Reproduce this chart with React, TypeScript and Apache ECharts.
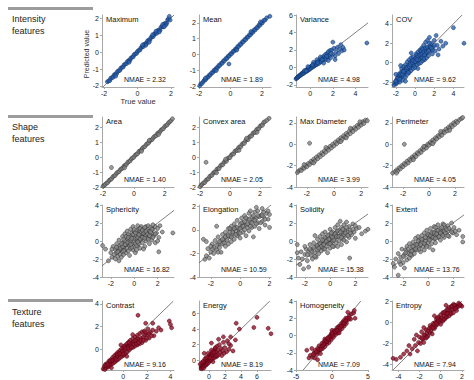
import React, { useEffect, useRef } from "react";
import * as echarts from "echarts";

const plotTitles = [
  "Maximum", "Mean", "Variance", "COV",
  "Area", "Convex area", "Max Diameter", "Perimeter",
  "Sphericity", "Elongation", "Solidity", "Extent",
  "Contrast", "Energy", "Homogeneity", "Entropy",
];
const nmaeLabels = [
  "2.32", "1.89", "4.98", "9.62",
  "1.40", "2.05", "3.99", "4.05",
  "16.82", "10.59", "15.38", "13.76",
  "9.16", "8.19", "7.09", "7.94",
];
const xRanges = [
  [-2.12, 2.18], [-2.0, 2.57], [-1.25, 5.1], [-2.4, 5.1],
  [-2.06, 2.6], [-2.07, 2.73], [-2.8, 2.5], [-2.85, 2.7],
  [-2.75, 3.4], [-2.8, 2.1], [-2.7, 3.0], [-2.9, 2.9],
  [-1.8, 4.3], [-1.25, 7.75], [-5, 5], [-4.6, 2.2],
];
const yRanges = [
  [-2.06, 2.18], [-2.06, 2.5], [-2.23, 6.0], [-2.5, 4.9],
  [-2.0, 2.67], [-2.0, 2.67], [-4, 2.55], [-4, 2.55],
  [-4, 4], [-4, 2.1], [-4, 4], [-4, 4],
  [-1.8, 4.25], [-1.25, 7.6], [-4, 4], [-4.5, 2.0],
];
const xTickValues = [
  [-2, 0, 2], [-2, 0, 2], [0, 2, 4], [-2, 0, 2, 4],
  [-2, 0, 2], [-2, 0, 2], [-2, 0, 2], [-2, 0, 2],
  [-2, 0, 2], [-2, 0, 2], [-2, 0, 2], [-2, 0, 2],
  [0, 2, 4], [0, 2, 4, 6], [-5, 0, 5], [-4, -2, 0, 2],
];
const yTickValues = [
  [-2, -1, 0, 1, 2], [-2, -1, 0, 1, 2], [-2, 0, 2, 4, 6], [-2, 0, 2, 4],
  [-2, -1, 0, 1, 2], [-2, -1, 0, 1, 2], [-4, -2, 0, 2], [-4, -2, 0, 2],
  [-4, -2, 0, 2, 4], [-4, -2, 0, 2], [-4, -2, 0, 2, 4], [-4, -2, 0, 2, 4],
  [0, 2, 4], [0, 2, 4, 6], [-4, -2, 0, 2, 4], [-4, -2, 0, 2],
];
const sectionNames = [["Intensity", "features"], ["Shape", "features"], ["Texture", "features"]];

const maximumPoints = [[-1.8,-1.75],[-1.72,-1.7],[-1.65,-1.68],[-1.6,-1.55],[-1.52,-1.5],[-1.45,-1.48],[-1.4,-1.35],[-1.33,-1.3],[-1.25,-1.28],[-1.2,-1.15],[-1.12,-1.1],[-1.05,-1.08],[-1.0,-0.95],[-0.92,-0.9],[-0.85,-0.88],[-0.8,-0.75],[-0.72,-0.7],[-0.65,-0.68],[-0.6,-0.55],[-0.52,-0.5],[-0.45,-0.48],[-0.4,-0.36],[-0.32,-0.3],[-0.25,-0.28],[-0.2,-0.15],[-0.12,-0.1],[-0.05,-0.08],[0.0,0.04],[0.08,0.1],[0.15,0.12],[0.2,0.25],[0.28,0.3],[0.35,0.32],[0.4,0.45],[0.48,0.5],[0.55,0.52],[0.6,0.66],[0.68,0.7],[0.75,0.72],[0.8,0.86],[0.88,0.9],[0.95,0.92],[1.0,1.06],[1.08,1.1],[1.15,1.1],[1.2,1.26],[1.28,1.3],[1.35,1.28],[1.4,1.46],[1.48,1.5],[1.55,1.48],[1.6,1.66],[1.68,1.7],[1.75,1.7],[1.8,1.9],[1.85,1.95],[1.9,2.1],[1.7,1.6],[1.5,1.62],[1.3,1.18],[0.9,1.02],[0.5,0.4],[0.3,0.42],[-0.5,-0.6],[-1.3,-1.42],[1.95,1.88],[1.6,1.5],[1.1,1.22],[0.7,0.58]];
const meanPoints = [[-1.95,-1.98],[-1.88,-1.85],[-1.8,-1.83],[-1.72,-1.7],[-1.65,-1.62],[-1.58,-1.6],[-1.5,-1.46],[-1.42,-1.44],[-1.35,-1.3],[-1.28,-1.3],[-1.2,-1.16],[-1.12,-1.14],[-1.05,-1.0],[-0.98,-1.0],[-0.9,-0.86],[-0.82,-0.84],[-0.75,-0.7],[-0.68,-0.7],[-0.6,-0.56],[-0.52,-0.55],[-0.45,-0.4],[-0.38,-0.4],[-0.3,-0.26],[-0.22,-0.25],[-0.15,-0.1],[-0.08,-0.1],[0.0,0.04],[0.07,0.04],[0.15,0.19],[0.22,0.2],[0.3,0.34],[0.37,0.34],[0.45,0.5],[0.52,0.5],[0.6,0.65],[0.67,0.64],[0.75,0.8],[0.82,0.8],[0.9,0.95],[0.97,0.94],[1.05,1.1],[1.12,1.1],[1.2,1.25],[1.27,1.24],[1.35,1.4],[1.42,1.4],[1.5,1.56],[1.57,1.55],[1.65,1.7],[1.72,1.7],[1.8,1.86],[1.87,1.85],[1.95,2.0],[2.02,2.0],[2.1,2.15],[2.2,2.18],[2.3,2.32],[2.5,2.42],[-0.1,-0.6],[1.3,1.45],[0.4,0.28],[-0.9,-1.02],[1.9,2.06],[-1.6,-1.5]];
const variancePoints = [[-1.25,-1.3],[-1.2,-1.22],[-1.15,-1.18],[-1.1,-1.12],[-1.05,-1.05],[-1.0,-1.02],[-0.95,-0.92],[-0.9,-0.95],[-0.85,-0.82],[-0.8,-0.85],[-0.75,-0.7],[-0.7,-0.75],[-0.65,-0.6],[-0.6,-0.68],[-0.55,-0.5],[-0.5,-0.58],[-0.45,-0.4],[-0.4,-0.5],[-0.35,-0.3],[-0.3,-0.42],[-0.25,-0.2],[-0.2,-0.35],[-0.15,-0.1],[-0.1,-0.25],[-0.05,0.0],[0.0,-0.15],[0.05,0.1],[0.1,-0.05],[0.15,0.2],[0.2,0.05],[0.25,0.3],[0.3,0.1],[0.35,0.4],[0.4,0.2],[0.45,0.5],[0.5,0.3],[0.55,0.6],[0.6,0.35],[0.7,0.7],[0.75,0.45],[0.8,0.85],[0.9,0.6],[0.95,1.0],[1.0,0.7],[1.1,1.15],[1.15,0.85],[1.2,1.3],[1.3,1.0],[1.35,1.5],[1.4,0.9],[1.5,1.6],[1.55,1.2],[1.6,1.8],[1.7,1.3],[1.75,1.95],[1.8,1.1],[1.9,2.0],[2.0,1.5],[2.1,2.2],[2.2,1.3],[2.3,1.8],[2.4,2.3],[2.5,1.6],[2.6,2.1],[2.8,1.9],[2.9,2.3],[3.0,2.0],[2.0,2.9],[2.7,2.6],[1.2,0.5],[2.2,0.9],[0.3,0.6],[-0.5,-0.35],[0.9,1.2],[5.0,2.8],[1.6,0.8],[0.6,0.9],[-0.2,0.1],[0.65,0.55],[1.05,0.9],[1.45,1.3],[1.85,1.6],[0.2,0.3],[-0.35,-0.4]];
const covPoints = [[-2.2,-2.3],[-2.1,-2.0],[-2.0,-2.2],[-1.9,-1.7],[-1.9,-2.1],[-1.8,-1.5],[-1.8,-1.9],[-1.7,-1.2],[-1.7,-1.8],[-1.6,-1.4],[-1.6,-2.0],[-1.5,-1.0],[-1.5,-1.6],[-1.4,-0.6],[-1.4,-1.3],[-1.3,-1.8],[-1.3,-0.9],[-1.2,-1.4],[-1.2,-0.4],[-1.1,-1.1],[-1.1,-0.7],[-1.0,-1.5],[-1.0,-0.2],[-0.9,-0.9],[-0.9,-0.5],[-0.8,-1.2],[-0.8,0.1],[-0.7,-0.7],[-0.7,-0.3],[-0.6,-1.0],[-0.6,0.3],[-0.5,-0.5],[-0.5,0.0],[-0.4,-0.8],[-0.4,0.5],[-0.3,-0.2],[-0.3,0.2],[-0.2,-0.6],[-0.2,0.6],[-0.1,0.0],[-0.1,-0.3],[0.0,0.4],[0.0,-0.5],[0.1,0.9],[0.1,0.1],[0.2,-0.2],[0.2,0.5],[0.3,1.1],[0.3,0.2],[0.4,-0.1],[0.4,0.7],[0.5,1.3],[0.5,0.4],[0.6,0.0],[0.6,0.9],[0.7,1.5],[0.7,0.5],[0.8,0.2],[0.8,1.1],[0.9,1.8],[0.9,0.7],[1.0,0.3],[1.0,1.3],[1.1,2.1],[1.1,0.9],[1.2,0.5],[1.2,1.5],[1.3,2.3],[1.3,1.0],[1.4,0.7],[1.5,1.7],[1.6,1.2],[1.7,2.0],[1.8,0.9],[1.9,1.6],[2.0,2.3],[2.1,1.2],[2.3,1.8],[2.5,1.4],[2.7,2.2],[2.9,1.7],[3.2,2.0],[2.4,0.8],[-1.0,-1.9],[-2.0,-1.2],[-1.5,-0.3],[0.3,-0.6],[4.0,3.6],[5.1,2.0],[1.5,2.6],[-0.4,1.0],[2.2,2.8],[-1.8,-1.6],[-1.5,-1.2],[-1.3,-1.2],[-1.1,-0.9],[-0.9,-0.7],[-0.8,-0.5],[-0.6,-0.4],[-0.5,-0.2],[-0.3,0.0],[-0.2,0.2],[0.0,0.1],[0.1,0.5],[0.2,0.8],[0.3,0.6],[0.5,0.8],[0.6,1.2],[0.7,0.9],[0.8,1.4],[0.9,1.1],[1.0,0.8],[1.1,1.5],[1.2,1.1],[1.3,1.6],[1.4,1.2],[1.5,2.0],[1.6,1.6],[1.8,1.3],[-1.2,-0.9],[-0.7,-1.0],[0.4,0.3],[1.7,1.5],[2.0,1.8],[-2.0,-1.9],[-1.6,-1.7],[0.2,0.3],[0.9,0.4]];
const areaPoints = [[-2.0,-1.95],[-1.92,-1.9],[-1.85,-1.82],[-1.76,-1.74],[-1.68,-1.7],[-1.6,-1.56],[-1.52,-1.5],[-1.44,-1.46],[-1.36,-1.32],[-1.28,-1.26],[-1.2,-1.22],[-1.12,-1.08],[-1.04,-1.02],[-0.96,-0.98],[-0.88,-0.84],[-0.8,-0.78],[-0.72,-0.74],[-0.64,-0.6],[-0.56,-0.54],[-0.48,-0.5],[-0.4,-0.36],[-0.32,-0.3],[-0.24,-0.26],[-0.16,-0.12],[-0.08,-0.06],[0.0,-0.02],[0.08,0.12],[0.16,0.18],[0.24,0.22],[0.32,0.36],[0.4,0.42],[0.48,0.46],[0.56,0.6],[0.64,0.66],[0.72,0.7],[0.8,0.84],[0.88,0.9],[0.96,0.94],[1.04,1.08],[1.12,1.14],[1.2,1.18],[1.28,1.32],[1.36,1.38],[1.44,1.42],[1.52,1.56],[1.6,1.62],[1.68,1.66],[1.76,1.8],[1.84,1.86],[1.92,1.9],[2.0,2.04],[2.08,2.1],[2.16,2.14],[2.24,2.28],[2.32,2.34],[2.4,2.42],[2.5,2.55],[-1.45,-0.7],[0.5,0.38],[1.0,1.12],[1.6,1.5],[-0.6,-0.72]];
const convexAreaPoints = [[-2.0,-1.98],[-1.92,-1.86],[-1.84,-1.8],[-1.76,-1.72],[-1.68,-1.7],[-1.6,-1.55],[-1.52,-1.48],[-1.44,-1.46],[-1.36,-1.3],[-1.28,-1.24],[-1.2,-1.22],[-1.12,-1.06],[-1.04,-1.0],[-0.96,-0.99],[-0.88,-0.82],[-0.8,-0.76],[-0.72,-0.76],[-0.64,-0.58],[-0.56,-0.52],[-0.48,-0.52],[-0.4,-0.34],[-0.32,-0.28],[-0.24,-0.28],[-0.16,-0.1],[-0.08,-0.04],[0.0,-0.04],[0.08,0.14],[0.16,0.2],[0.24,0.2],[0.32,0.38],[0.4,0.44],[0.48,0.44],[0.56,0.62],[0.64,0.68],[0.72,0.68],[0.8,0.86],[0.88,0.92],[0.96,0.92],[1.04,1.1],[1.12,1.16],[1.2,1.16],[1.28,1.34],[1.36,1.4],[1.44,1.4],[1.52,1.58],[1.6,1.64],[1.68,1.64],[1.76,1.82],[1.84,1.88],[1.92,1.88],[2.0,2.06],[2.08,2.12],[2.16,2.12],[2.24,2.3],[2.32,2.36],[2.45,2.45],[2.6,2.58],[-1.6,-0.35],[0.6,0.45],[1.1,1.25],[-0.9,-1.05],[1.8,1.65],[-0.3,-0.15]];
const maxDiameterPoints = [[-2.95,-2.5],[-2.7,-2.65],[-2.6,-2.5],[-2.5,-2.4],[-2.4,-2.45],[-2.3,-2.2],[-2.2,-2.25],[-2.1,-2.0],[-2.0,-2.1],[-1.9,-1.8],[-1.8,-1.9],[-1.7,-1.6],[-1.6,-1.7],[-1.5,-1.4],[-1.4,-1.55],[-1.3,-1.2],[-1.2,-1.35],[-1.1,-1.0],[-1.0,-1.15],[-0.9,-0.8],[-0.8,-0.95],[-0.7,-0.6],[-0.6,-0.75],[-0.5,-0.4],[-0.4,-0.55],[-0.3,-0.2],[-0.2,-0.35],[-0.1,0.0],[0.0,-0.15],[0.1,0.2],[0.2,0.05],[0.3,0.4],[0.4,0.25],[0.5,0.6],[0.6,0.45],[0.7,0.8],[0.8,0.65],[0.9,1.0],[1.0,0.85],[1.1,1.2],[1.2,1.0],[1.3,1.4],[1.4,1.2],[1.5,1.55],[1.6,1.4],[1.7,1.75],[1.8,1.6],[1.9,1.9],[2.0,1.8],[2.1,2.1],[2.2,1.95],[2.3,2.25],[2.45,2.2],[-1.8,0.1],[-1.5,-1.75],[0.5,0.25],[1.2,1.5],[-0.6,-0.3],[0.9,0.6],[1.9,2.1],[-2.2,-1.9]];
const perimeterPoints = [[-2.8,-2.7],[-2.6,-2.55],[-2.5,-2.4],[-2.4,-2.5],[-2.3,-2.2],[-2.2,-2.3],[-2.1,-2.0],[-2.0,-2.1],[-1.9,-1.8],[-1.8,-1.9],[-1.7,-1.6],[-1.6,-1.75],[-1.5,-1.4],[-1.4,-1.5],[-1.3,-1.2],[-1.2,-1.3],[-1.1,-1.0],[-1.0,-1.15],[-0.9,-0.8],[-0.8,-0.9],[-0.7,-0.6],[-0.6,-0.75],[-0.5,-0.4],[-0.4,-0.5],[-0.3,-0.2],[-0.2,-0.35],[-0.1,0.0],[0.0,-0.1],[0.1,0.2],[0.2,0.1],[0.3,0.4],[0.4,0.25],[0.5,0.6],[0.6,0.5],[0.7,0.8],[0.8,0.7],[0.9,1.0],[1.0,0.85],[1.1,1.2],[1.2,1.1],[1.3,1.4],[1.4,1.25],[1.5,1.6],[1.6,1.5],[1.7,1.8],[1.8,1.65],[1.9,2.0],[2.0,1.85],[2.1,2.15],[2.2,2.05],[2.35,2.3],[2.5,2.4],[2.6,2.5],[-1.9,0.0],[-1.2,-1.45],[0.3,0.05],[0.9,1.2],[1.6,1.3],[-0.4,-0.2],[-2.5,-2.7]];
const sphericityPoints = [[-2.7,-0.5],[-2.45,-0.9],[-2.2,-2.2],[-2.0,-1.3],[-1.9,-1.8],[-1.8,-0.6],[-1.7,-1.5],[-1.6,-1.0],[-1.6,-2.0],[-1.5,-0.3],[-1.5,-1.3],[-1.4,-1.7],[-1.4,-0.8],[-1.3,-1.1],[-1.3,0.1],[-1.2,-1.5],[-1.2,-0.5],[-1.1,-0.9],[-1.1,-1.8],[-1.0,-0.2],[-1.0,-1.2],[-1.0,0.5],[-0.9,-0.7],[-0.9,-1.5],[-0.8,0.0],[-0.8,-1.0],[-0.8,0.8],[-0.7,-0.4],[-0.7,-1.3],[-0.6,0.3],[-0.6,-0.8],[-0.6,1.1],[-0.5,-0.1],[-0.5,-1.1],[-0.4,0.6],[-0.4,-0.5],[-0.4,-1.6],[-0.3,0.2],[-0.3,-0.8],[-0.3,1.3],[-0.2,0.9],[-0.2,-0.3],[-0.1,0.4],[-0.1,-1.0],[-0.1,1.6],[0.0,0.0],[0.0,-0.6],[0.0,1.0],[0.1,0.5],[0.1,-0.3],[0.1,-1.3],[0.2,1.2],[0.2,0.2],[0.3,-0.5],[0.3,0.8],[0.3,1.7],[0.4,0.0],[0.4,1.3],[0.5,0.5],[0.5,-0.8],[0.5,1.0],[0.6,0.2],[0.6,1.6],[0.7,0.8],[0.7,-0.2],[0.8,1.3],[0.8,0.4],[0.9,-0.6],[0.9,1.0],[1.0,0.6],[1.0,1.6],[1.0,0.0],[1.1,1.2],[1.1,0.3],[1.2,0.8],[1.2,1.7],[1.3,-0.3],[1.3,1.1],[1.4,0.5],[1.4,1.5],[1.5,0.9],[1.5,0.1],[1.6,1.3],[1.7,0.6],[1.8,1.6],[1.8,-0.2],[1.9,0.9],[2.0,1.4],[2.1,-1.2],[2.1,0.4],[2.2,1.7],[2.4,1.0],[3.3,0.9],[-1.9,-0.9],[0.2,-1.0],[-0.5,0.7],[1.6,1.8],[0.8,-0.9],[-1.3,-2.2],[2.0,0.0],[-1.5,-0.7],[-1.2,-0.8],[-1.0,-0.6],[-0.9,0.2],[-0.7,0.5],[-0.5,0.4],[-0.4,-0.2],[-0.2,-0.7],[-0.1,0.7],[0.0,0.3],[0.1,0.9],[0.2,-0.5],[0.3,0.4],[0.4,-0.3],[0.5,0.2],[0.6,0.9],[0.7,0.4],[0.8,0.9],[0.9,0.3],[1.1,0.8],[1.2,0.2],[1.3,0.6],[1.5,1.3],[1.6,0.4],[-0.6,-0.2],[-0.3,-0.4],[0.0,1.3],[0.5,1.4],[-1.4,-1.2],[-0.8,-0.4],[0.7,1.2],[1.0,1.1],[-0.2,0.3],[0.3,-0.1],[-1.1,-0.3],[0.9,1.5],[1.8,0.8],[-0.9,-1.1],[0.4,0.7],[1.4,1.0]];
const elongationPoints = [[-2.5,-0.8],[-2.4,-2.5],[-2.3,-2.2],[-2.2,-1.6],[-2.1,-2.4],[-2.0,-1.9],[-1.9,-1.2],[-1.8,-2.0],[-1.8,-1.5],[-1.7,-0.9],[-1.6,-1.7],[-1.5,-1.2],[-1.5,-0.6],[-1.4,-1.5],[-1.3,-0.9],[-1.3,-1.9],[-1.2,-0.4],[-1.2,-1.2],[-1.1,-0.8],[-1.0,-1.4],[-1.0,-0.2],[-0.9,-0.9],[-0.9,-0.5],[-0.8,-1.2],[-0.8,0.1],[-0.7,-0.6],[-0.7,-0.2],[-0.6,-1.0],[-0.6,0.3],[-0.5,-0.4],[-0.5,0.0],[-0.4,-0.8],[-0.4,0.5],[-0.3,-0.1],[-0.3,0.2],[-0.2,-0.5],[-0.2,0.8],[-0.1,0.1],[-0.1,-0.3],[0.0,0.5],[0.0,-0.7],[0.1,0.2],[0.1,1.0],[0.2,-0.2],[0.2,0.6],[0.3,1.2],[0.3,0.0],[0.4,0.4],[0.4,-0.5],[0.5,0.9],[0.5,0.2],[0.6,1.4],[0.6,-0.1],[0.7,0.6],[0.8,1.1],[0.8,0.2],[0.9,0.8],[1.0,1.5],[1.0,0.3],[1.1,1.0],[1.2,0.6],[1.2,1.6],[1.3,0.1],[1.4,1.2],[1.5,0.7],[1.5,1.8],[1.6,1.1],[1.7,0.4],[1.8,1.4],[1.9,0.9],[2.0,1.3],[2.0,0.2],[-1.6,0.3],[0.9,-0.6],[-2.3,-1.0],[1.1,1.9],[-1.9,-1.6],[-1.6,-1.3],[-1.4,-1.0],[-1.1,-1.1],[-1.0,-0.6],[-0.8,-0.5],[-0.6,-0.6],[-0.5,-0.2],[-0.3,-0.4],[-0.2,0.2],[0.0,0.1],[0.1,0.6],[0.2,0.3],[0.3,0.7],[0.5,0.5],[0.6,0.9],[0.7,0.3],[0.9,1.2],[1.0,0.8],[1.1,0.5],[1.3,1.1],[1.4,0.6],[1.6,1.5],[1.7,0.9],[1.9,1.6],[-1.2,-0.8],[-0.7,0.1],[-0.4,0.1],[0.4,1.0],[0.8,0.6],[1.2,1.2],[-2.0,-1.4],[-1.5,-1.9],[0.0,-0.3],[0.7,1.6],[1.5,1.2]];
const solidityPoints = [[-2.6,-0.4],[-2.6,-1.3],[-2.5,-1.9],[-2.4,-2.6],[-2.3,-1.2],[-2.2,-2.0],[-2.0,-1.5],[-1.9,-0.9],[-1.8,-2.2],[-1.7,-2.9],[-1.7,-1.2],[-1.6,-0.4],[-1.5,-1.6],[-1.4,-0.9],[-1.4,-2.0],[-1.3,-0.2],[-1.2,-1.3],[-1.1,-0.6],[-1.1,-1.8],[-1.0,0.2],[-1.0,-1.0],[-0.9,-0.3],[-0.9,-1.4],[-0.8,0.5],[-0.8,-0.7],[-0.7,-0.1],[-0.7,-1.1],[-0.6,0.8],[-0.6,-0.4],[-0.5,0.2],[-0.5,-0.9],[-0.4,-0.2],[-0.4,1.0],[-0.3,0.4],[-0.3,-0.6],[-0.2,0.0],[-0.2,-1.3],[-0.1,0.7],[-0.1,-0.3],[0.0,0.2],[0.0,1.3],[0.0,-0.8],[0.1,0.5],[0.1,-0.2],[0.2,1.0],[0.2,0.0],[0.3,-0.6],[0.3,0.7],[0.4,1.5],[0.4,0.3],[0.5,-0.2],[0.5,1.0],[0.6,0.5],[0.6,1.8],[0.7,0.0],[0.7,1.2],[0.8,0.6],[0.9,1.5],[0.9,-0.4],[1.0,0.9],[1.0,0.2],[1.1,1.8],[1.2,0.6],[1.2,1.2],[1.3,-0.1],[1.4,1.0],[1.5,1.6],[1.5,0.4],[1.55,-1.9],[1.6,1.2],[1.7,0.7],[1.8,1.9],[1.9,1.0],[2.0,0.3],[2.1,1.4],[2.3,1.5],[2.5,0.8],[2.8,1.1],[3.0,1.3],[-1.2,0.6],[0.8,2.2],[-2.1,-3.1],[1.3,2.1],[-1.8,-1.5],[-1.5,-1.1],[-1.3,-0.7],[-1.2,-1.7],[-1.0,-0.5],[-0.8,-0.3],[-0.7,-0.6],[-0.6,0.1],[-0.5,-0.4],[-0.4,0.4],[-0.3,0.0],[-0.2,0.6],[-0.1,0.2],[0.0,-0.3],[0.1,0.9],[0.2,0.4],[0.3,0.1],[0.4,0.8],[0.5,0.5],[0.6,1.1],[0.7,0.5],[0.8,1.0],[0.9,0.4],[1.0,1.3],[1.1,0.7],[1.2,0.9],[1.3,1.5],[1.4,0.6],[1.6,0.9],[1.8,1.3],[-0.9,-0.8],[-0.4,-0.9],[0.2,-0.6],[0.6,-0.6],[1.1,0.1],[-1.6,-0.9],[2.0,1.7],[-2.0,-0.6]];
const extentPoints = [[-2.8,-2.5],[-2.6,-2.0],[-2.4,-3.8],[-2.4,-1.4],[-2.3,-2.3],[-2.2,-1.8],[-2.1,-0.9],[-2.0,-2.4],[-1.9,-1.5],[-1.8,-1.0],[-1.7,-2.1],[-1.7,-0.6],[-1.6,-1.4],[-1.5,-1.9],[-1.5,-0.3],[-1.4,-1.1],[-1.3,-0.6],[-1.3,-1.6],[-1.2,-0.1],[-1.1,-0.9],[-1.1,-1.4],[-1.0,-0.4],[-1.0,0.3],[-0.9,-1.0],[-0.8,-0.3],[-0.8,0.5],[-0.7,-0.7],[-0.7,0.1],[-0.6,-1.2],[-0.5,-0.2],[-0.5,0.6],[-0.4,-0.6],[-0.4,0.2],[-0.3,-1.0],[-0.3,0.9],[-0.2,0.0],[-0.2,-0.4],[-0.1,0.5],[-0.1,1.2],[0.0,-0.2],[0.0,0.3],[0.1,-0.7],[0.1,0.8],[0.2,0.2],[0.2,1.4],[0.3,0.5],[0.3,-0.3],[0.4,1.0],[0.5,0.2],[0.5,1.6],[0.6,0.7],[0.6,-0.2],[0.7,1.2],[0.8,0.4],[0.8,1.8],[0.9,0.9],[1.0,0.1],[1.0,1.4],[1.1,0.7],[1.2,1.9],[1.2,1.1],[1.3,0.4],[1.4,1.5],[1.5,0.9],[1.6,1.7],[1.7,0.5],[1.8,1.2],[1.9,2.0],[2.0,0.9],[2.1,1.5],[2.3,0.7],[2.5,1.2],[2.8,0.5],[2.8,-0.1],[-2.7,-2.9],[0.4,-1.0],[-1.9,-3.0],[-2.0,-1.7],[-1.8,-1.3],[-1.6,-0.9],[-1.4,-1.5],[-1.2,-0.6],[-1.0,-0.9],[-0.9,-0.4],[-0.8,0.0],[-0.6,-0.4],[-0.5,0.2],[-0.3,-0.3],[-0.2,0.4],[0.0,0.7],[0.1,0.1],[0.2,0.6],[0.3,0.9],[0.4,0.4],[0.5,0.9],[0.6,0.3],[0.7,0.8],[0.8,1.2],[0.9,0.5],[1.0,0.9],[1.1,1.5],[1.2,0.6],[1.3,1.1],[1.4,0.9],[1.5,1.3],[1.6,0.6],[1.7,1.4],[1.9,1.0],[2.2,1.1],[-1.3,-1.1],[-0.7,-0.9],[-0.1,-0.6],[0.6,1.5],[1.3,1.8],[-2.2,-2.6]];
const contrastPoints = [[-1.7,-1.7],[-1.6,-1.5],[-1.55,-1.75],[-1.5,-1.3],[-1.45,-1.6],[-1.4,-1.45],[-1.35,-1.2],[-1.3,-1.55],[-1.25,-1.35],[-1.2,-1.0],[-1.15,-1.45],[-1.1,-1.2],[-1.05,-0.9],[-1.0,-1.3],[-0.95,-1.05],[-0.9,-0.7],[-0.85,-1.2],[-0.8,-0.9],[-0.75,-0.55],[-0.7,-1.1],[-0.65,-0.75],[-0.6,-0.4],[-0.55,-0.95],[-0.5,-0.6],[-0.45,-0.25],[-0.4,-0.85],[-0.35,-0.45],[-0.3,-0.1],[-0.25,-0.7],[-0.2,-0.3],[-0.15,0.05],[-0.1,-0.6],[-0.05,-0.2],[0.0,0.2],[0.05,-0.5],[0.1,0.0],[0.15,0.35],[0.2,-0.35],[0.25,0.15],[0.3,0.5],[0.35,-0.2],[0.4,0.3],[0.45,0.65],[0.5,-0.05],[0.55,0.4],[0.6,0.8],[0.65,0.1],[0.7,0.55],[0.8,0.95],[0.85,0.2],[0.9,0.65],[1.0,1.1],[1.0,0.3],[1.1,0.75],[1.2,1.25],[1.2,0.4],[1.3,0.9],[1.4,1.4],[1.4,0.5],[1.5,1.0],[1.6,1.55],[1.6,0.6],[1.7,1.1],[1.8,1.6],[1.9,0.8],[2.0,1.3],[2.1,1.8],[2.2,1.0],[2.3,1.5],[2.5,1.7],[2.6,1.2],[2.8,1.6],[3.0,1.9],[3.2,1.7],[1.25,3.0],[3.9,2.5],[4.1,1.9],[4.0,2.2],[1.9,2.3],[2.5,2.3],[-1.0,-1.6],[0.3,-0.6],[-0.2,0.4],[0.8,1.3],[-1.5,-1.4],[-1.3,-1.3],[-1.1,-1.0],[-0.9,-0.95],[-0.7,-0.8],[-0.5,-0.4],[-0.3,-0.35],[-0.1,-0.15],[0.1,0.25],[0.2,0.1],[0.4,0.1],[0.6,0.45],[0.7,0.2],[0.9,0.45],[1.1,0.5],[1.2,0.9],[1.3,0.6],[1.5,0.8],[1.7,0.8],[1.8,1.3],[2.0,1.0],[2.2,1.4],[2.4,1.2],[0.0,-0.4],[-0.6,-0.9],[0.5,0.6],[1.0,0.8],[1.9,1.5]];
const energyPoints = [[-1.0,-1.0],[-0.95,-0.8],[-0.9,-1.1],[-0.85,-0.6],[-0.8,-0.9],[-0.75,-0.4],[-0.7,-0.75],[-0.65,-1.0],[-0.6,-0.5],[-0.55,-0.2],[-0.5,-0.7],[-0.45,-0.35],[-0.4,0.0],[-0.35,-0.6],[-0.3,-0.2],[-0.25,0.2],[-0.2,-0.45],[-0.15,0.0],[-0.1,0.4],[-0.05,-0.3],[0.0,0.15],[0.05,0.6],[0.1,-0.1],[0.15,0.35],[0.2,0.8],[0.25,0.0],[0.3,0.5],[0.35,1.0],[0.4,0.2],[0.5,0.7],[0.55,1.2],[0.6,0.3],[0.7,0.9],[0.75,1.5],[0.8,0.4],[0.9,1.1],[1.0,1.8],[1.0,0.5],[1.1,1.3],[1.2,0.7],[1.3,2.0],[1.4,1.0],[1.5,1.5],[1.6,0.6],[1.7,1.2],[1.8,2.3],[1.9,0.9],[2.0,1.6],[2.2,1.1],[2.3,2.5],[2.5,1.4],[2.7,1.9],[3.0,1.2],[3.3,2.6],[1.8,3.0],[2.5,2.1],[2.7,3.0],[3.4,4.75],[3.8,4.0],[5.6,4.2],[6.0,5.5],[7.4,4.1],[7.75,3.4],[0.3,2.2],[-0.6,0.9],[1.2,2.7],[-1.1,-0.5],[0.5,-0.2],[-0.9,-0.3],[-0.7,-0.1],[-0.5,0.2],[-0.3,0.4],[-0.1,0.9],[0.1,0.3],[0.3,1.3],[0.6,1.0],[0.8,1.6],[0.9,0.6]];
const homogeneityPoints = [[-3.5,-1.7],[-3.2,-2.6],[-3.0,-2.3],[-2.8,-1.5],[-2.7,-2.5],[-2.5,-2.0],[-2.4,-2.6],[-2.3,-1.7],[-2.1,-2.2],[-2.0,-1.5],[-1.9,-1.9],[-1.8,-1.2],[-1.7,-1.7],[-1.6,-2.1],[-1.5,-1.3],[-1.4,-0.9],[-1.3,-1.5],[-1.2,-1.1],[-1.1,-0.7],[-1.0,-1.3],[-0.9,-0.9],[-0.8,-0.5],[-0.7,-1.0],[-0.6,-0.6],[-0.5,-0.2],[-0.4,-0.8],[-0.3,-0.4],[-0.2,0.0],[-0.1,-0.5],[0.0,-0.1],[0.1,0.3],[0.2,-0.2],[0.3,0.2],[0.4,0.6],[0.5,0.1],[0.6,0.5],[0.7,0.9],[0.8,0.3],[0.9,0.7],[1.0,1.1],[1.1,0.6],[1.2,1.0],[1.3,1.4],[1.4,0.8],[1.5,1.2],[1.6,1.7],[1.7,1.1],[1.8,1.5],[1.9,2.0],[2.0,1.4],[2.2,1.8],[2.4,2.3],[2.6,1.9],[2.7,2.5],[3.0,2.6],[3.2,2.0],[3.1,2.9],[2.2,2.7],[-2.0,-2.8],[0.0,0.6],[1.0,0.3],[-1.0,-0.4],[-2.6,-2.2],[-2.2,-1.9],[-1.8,-1.6],[-1.5,-1.6],[-1.3,-1.2],[-1.1,-1.0],[-0.9,-0.6],[-0.7,-0.7],[-0.5,-0.5],[-0.3,-0.1],[-0.1,0.2],[0.1,0.0],[0.3,0.5],[0.5,0.4],[0.7,0.6],[0.9,1.0],[1.1,0.9],[1.3,1.1],[1.5,1.5],[1.7,1.4],[1.9,1.7],[2.1,2.0],[2.4,2.0],[0.0,0.3],[-0.6,-0.3]];
const entropyPoints = [[-4.5,-3.4],[-4.2,-3.5],[-3.5,-3.0],[-3.2,-2.7],[-3.0,-2.2],[-2.9,-3.0],[-2.7,-2.5],[-2.5,-1.6],[-2.4,-2.2],[-2.3,-1.2],[-2.2,-2.7],[-2.1,-1.9],[-2.0,-1.4],[-1.9,-2.0],[-1.8,-0.9],[-1.7,-1.6],[-1.6,-1.9],[-1.5,-1.2],[-1.4,-0.7],[-1.4,-1.5],[-1.3,-1.0],[-1.2,-1.3],[-1.1,-0.6],[-1.0,-1.0],[-1.0,-0.3],[-0.9,-0.8],[-0.8,-0.4],[-0.8,-1.1],[-0.7,-0.1],[-0.6,-0.6],[-0.5,0.0],[-0.5,-0.4],[-0.4,0.3],[-0.3,-0.2],[-0.3,0.1],[-0.2,0.5],[-0.1,0.0],[-0.1,0.3],[0.0,0.7],[0.0,-0.2],[0.1,0.4],[0.2,0.9],[0.2,0.1],[0.3,0.6],[0.4,1.0],[0.4,0.3],[0.5,0.8],[0.6,1.2],[0.6,0.5],[0.7,0.9],[0.8,1.4],[0.8,0.6],[0.9,1.1],[1.0,1.5],[1.0,0.8],[1.1,1.2],[1.2,1.7],[1.2,0.9],[1.3,1.3],[1.4,1.6],[1.5,1.1],[1.6,1.5],[1.7,1.8],[1.9,1.6],[2.0,1.5],[-3.8,-3.3],[-1.6,-0.5],[0.5,1.6],[-0.6,0.6],[-1.8,-1.5],[-1.6,-1.2],[-1.3,-1.4],[-1.2,-0.8],[-0.9,-0.5],[-0.7,-0.5],[-0.6,-0.2],[-0.4,-0.1],[-0.2,0.2],[0.1,0.2],[0.3,0.3],[0.3,0.9],[0.5,0.5],[0.7,1.2],[0.9,0.8],[1.1,1.5],[1.3,1.6],[1.5,1.4],[1.4,1.3],[1.7,1.5],[0.6,0.8],[-0.3,0.4],[1.8,1.7]];

const allPoints = [
  maximumPoints, meanPoints, variancePoints, covPoints,
  areaPoints, convexAreaPoints, maxDiameterPoints, perimeterPoints,
  sphericityPoints, elongationPoints, solidityPoints, extentPoints,
  contrastPoints, energyPoints, homogeneityPoints, entropyPoints,
];

const FONT = '"Liberation Sans", Arial, Helvetica, sans-serif';
const colLeft = [102, 199, 296, 392];
const rowTop = [15, 117, 205, 301];
const rowHeight = [72, 70, 72, 71];
const plotWidth = 72;
const palettes = [
  { fill: "#2c63b0", edge: "#0a2a5c" },
  { fill: "#858585", edge: "#2a2a2a" },
  { fill: "#921229", edge: "#4a000e" },
];
const rowPalette = [0, 1, 1, 2];
const sectionBarY = [7, 115, 299];
const sectionTextY = [19, 127, 312];

function buildOption(): any {
  const grid: any[] = [];
  const xAxis: any[] = [];
  const yAxis: any[] = [];
  const series: any[] = [];
  const graphic: any[] = [];
  const axisColor = "#a8a8a8";

  for (let i = 0; i < 16; i++) {
    const r = Math.floor(i / 4);
    const c = i % 4;
    const left = colLeft[c];
    const top = rowTop[r];
    const h = rowHeight[r];
    const pal = palettes[rowPalette[r]];
    grid.push({ left, top, width: plotWidth, height: h });
    xAxis.push({
      type: "value", gridIndex: i, min: xRanges[i][0], max: xRanges[i][1],
      axisLine: { show: true, onZero: false, lineStyle: { color: axisColor, width: 1 } },
      axisTick: { show: true, length: 2, customValues: xTickValues[i], lineStyle: { color: axisColor } },
      axisLabel: { customValues: xTickValues[i], fontSize: 7, color: "#222", margin: 3, fontFamily: FONT },
      splitLine: { show: false },
    });
    yAxis.push({
      type: "value", gridIndex: i, min: yRanges[i][0], max: yRanges[i][1],
      axisLine: { show: true, onZero: false, lineStyle: { color: axisColor, width: 1 } },
      axisTick: { show: true, length: 2, customValues: yTickValues[i], lineStyle: { color: axisColor } },
      axisLabel: { customValues: yTickValues[i], fontSize: 7, color: "#222", margin: 3, fontFamily: FONT },
      splitLine: { show: false },
    });
    const lo = Math.max(xRanges[i][0], yRanges[i][0]);
    const hi = Math.min(xRanges[i][1], yRanges[i][1]);
    series.push({
      type: "line", xAxisIndex: i, yAxisIndex: i, data: [[lo, lo], [hi, hi]],
      symbol: "none", silent: true, z: 1,
      lineStyle: { color: "#4a4a4a", width: 0.7 },
    });
    series.push({
      type: "scatter", xAxisIndex: i, yAxisIndex: i, data: allPoints[i],
      symbolSize: 4, z: 2, silent: true,
      itemStyle: { color: pal.fill, borderColor: pal.edge, borderWidth: 0.6 },
    });
    graphic.push({
      type: "text", x: left + 4, y: top + 4, z: 10,
      style: { text: plotTitles[i], fontSize: 7.5, fontFamily: FONT, fill: "#111",
        align: "left", verticalAlign: "middle", textAlign: "left", textVerticalAlign: "middle" },
    });
    graphic.push({
      type: "text", x: left + 22, y: top + h - 7.5, z: 10,
      style: { text: "NMAE = " + nmaeLabels[i], fontSize: 7, fontFamily: FONT, fill: "#111",
        align: "left", verticalAlign: "middle", textAlign: "left", textVerticalAlign: "middle" },
    });
  }

  for (let s = 0; s < 3; s++) {
    graphic.push({ type: "rect", shape: { x: 8, y: sectionBarY[s], width: 85, height: 3 }, style: { fill: "#9c9c9c" } });
    graphic.push({
      type: "text", x: 12, y: sectionTextY[s],
      style: { text: sectionNames[s][0], fontSize: 9, fontFamily: FONT, fill: "#222",
        align: "left", verticalAlign: "middle", textAlign: "left", textVerticalAlign: "middle" },
    });
    graphic.push({
      type: "text", x: 12, y: sectionTextY[s] + 11.5,
      style: { text: sectionNames[s][1], fontSize: 9, fontFamily: FONT, fill: "#222",
        align: "left", verticalAlign: "middle", textAlign: "left", textVerticalAlign: "middle" },
    });
  }

  graphic.push({
    type: "text", x: 86, y: rowTop[0] + rowHeight[0] / 2 + 3, rotation: Math.PI / 2,
    style: { text: "Predicted value", fontSize: 7, fontFamily: FONT, fill: "#333",
      align: "center", verticalAlign: "middle", textAlign: "center", textVerticalAlign: "middle" },
  });
  graphic.push({
    type: "text", x: colLeft[0] + 36, y: 101,
    style: { text: "True value", fontSize: 7.5, fontFamily: FONT, fill: "#333",
      align: "center", verticalAlign: "middle", textAlign: "center", textVerticalAlign: "middle" },
  });

  return { animation: false, backgroundColor: "#ffffff", grid, xAxis, yAxis, series, graphic };
}

export default function App() {
  const ref = useRef<HTMLDivElement>(null);
  useEffect(() => {
    if (!ref.current) return;
    const chart = echarts.init(ref.current, undefined, { renderer: "svg" });
    chart.setOption(buildOption());
    return () => chart.dispose();
  }, []);
  return (
    <div
      ref={ref}
      style={{ position: "fixed", left: 0, top: 0, width: 474, height: 380, background: "#fff" }}
    />
  );
}
